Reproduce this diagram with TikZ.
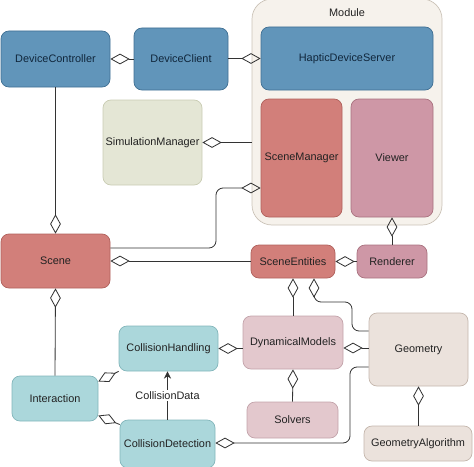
\documentclass[tikz,border=0pt]{standalone}
\usepackage{fontspec}
\setmainfont{Liberation Sans}
\usetikzlibrary{arrows.meta,calc}
\definecolor{bluefill}{HTML}{6195BA}
\definecolor{blueline}{HTML}{3F6F93}
\definecolor{bluetext}{HTML}{10263B}
\definecolor{redfill}{HTML}{D27F7A}
\definecolor{redline}{HTML}{B0605B}
\definecolor{pinkfill}{HTML}{CE97A6}
\definecolor{pinkline}{HTML}{A9727F}
\definecolor{rosefill}{HTML}{E3C8CD}
\definecolor{roseline}{HTML}{C3A3AA}
\definecolor{cyanfill}{HTML}{ABD7DB}
\definecolor{cyanline}{HTML}{83B6BB}
\definecolor{sandfill}{HTML}{EBE2DC}
\definecolor{sandline}{HTML}{C4B6AC}
\definecolor{olivefill}{HTML}{E4E6D5}
\definecolor{oliveline}{HTML}{C9CCB3}
\definecolor{modfill}{HTML}{F6F2EC}
\definecolor{modline}{HTML}{CBC3B8}
\definecolor{linec}{HTML}{333333}
\definecolor{textc}{HTML}{222222}
\tikzset{
  box/.style={rectangle,rounded corners=2.4mm,draw,line width=0.6pt,align=center,inner sep=0pt,
    font=\fontsize{9.3}{11}\selectfont,text=textc},
  sz/.style 2 args={minimum width=#1*0.3mm,minimum height=#2*0.3mm},
  bluebox/.style={box,fill=bluefill,draw=blueline,text=bluetext},
  redbox/.style={box,fill=redfill,draw=redline},
  pinkbox/.style={box,fill=pinkfill,draw=pinkline},
  rosebox/.style={box,fill=rosefill,draw=roseline},
  cyanbox/.style={box,fill=cyanfill,draw=cyanline},
  sandbox/.style={box,fill=sandfill,draw=sandline},
  olivebox/.style={box,fill=olivefill,draw=oliveline},
  modbox/.style={box,rounded corners=6mm,fill=modfill,draw=modline},
  agg/.style={draw=linec,line width=0.7pt,{Diamond[open,length=5.8mm,width=3.2mm,line width=0.7pt]}-},
  dataflow/.style={draw=linec,line width=0.7pt,-{Stealth[length=2.2mm,width=2.2mm]}}
}
\begin{document}
\begin{tikzpicture}[x=0.3mm,y=-0.3mm]
\useasboundingbox (0,0) rectangle (474,466);
%module container
\node[modbox,sz={190}{226}] (mod) at (347,112) {};
\node[font=\fontsize{9.3}{11}\selectfont,text=textc] (modlabel) at (347,13) {Module};
\node[bluebox,sz={172}{63}] (hds) at (347,58.5) {HapticDeviceServer};
\node[redbox,sz={81}{118}] (sm) at (301.5,158) {SceneManager};
\node[pinkbox,sz={82}{118}] (vw) at (392,158) {Viewer};
%device side
\node[bluebox,sz={109}{56}] (dc) at (55.5,59) {DeviceController};
\node[bluebox,sz={94}{62}] (dcl) at (181,59) {DeviceClient};
\node[olivebox,sz={99}{85}] (sim) at (152.5,142.5) {SimulationManager};
%scene
\node[redbox,sz={109}{54}] (sc) at (55.5,261) {Scene};
\node[redbox,sz={84}{33}] (se) at (293,261.5) {SceneEntities};
\node[pinkbox,sz={70}{33}] (rd) at (392,261.5) {Renderer};
%collision and dynamics
\node[cyanbox,sz={99}{45}] (ch) at (168.5,348.5) {CollisionHandling};
\node[cyanbox,sz={86}{45}] (ia) at (55,398.5) {Interaction};
\node[cyanbox,sz={95}{48}] (cd) at (167.5,444) {CollisionDetection};
\node[rosebox,sz={100}{53}] (dm) at (293,342.5) {DynamicalModels};
\node[rosebox,sz={91}{36}] (sv) at (292.5,420) {Solvers};
\node[sandbox,sz={99}{73}] (geo) at (418.5,349.5) {Geometry};
\node[sandbox,sz={108}{35}] (ga) at (418,443.5) {GeometryAlgorithm};
%aggregations
\draw[agg] (dc.east) -- (dcl.west);
\draw[agg] (hds.west) -- (hds.west -| dcl.east);
\draw[agg] (sc.north) -- (dc.south);
\draw[agg] (sim.east) -- (sim.east -| mod.west);
\draw[agg,rounded corners=6pt] ($(sm.west)+(0,30)$) -| (216,220) |- ($(sc.east)+(0,-13)$);
\draw[agg] (sc.east) -- (sc.east -| se.west);
\draw[agg] (se.east) -- (rd.west);
\draw[agg] (vw.south) -- (rd.north);
\draw[agg] (sc.south) -- (ia.north);
\draw[agg] ($(ia.east)+(0,-17)$) -- (ch.south west);
\draw[agg] ($(ia.east)+(0,17)$) -- ($(cd.west)+(0,-19.5)$);
\draw[agg] (ch.east) -- (ch.east -| dm.west);
\draw[agg] (se.south) -- (dm.north);
\draw[agg,rounded corners=6pt] ($(se.south)+(21,0)$) |- (352,302) |- ($(geo.west)+(0,-18.5)$);
\coordinate (dmg) at ($(dm.east)+(0,5.5)$);
\draw[agg] (dmg) -- (dmg -| geo.west);
\draw[agg] (dm.south) -- (sv.north);
\draw[agg,rounded corners=6pt] ($(cd.east)+(0,-1)$) -| (350,400) |- ($(geo.west)+(0,17.5)$);
\draw[agg] (geo.south) -- (geo.south |- ga.north);
%data flow
\draw[dataflow] (cd.north) -- (cd.north |- ch.south)
  node[midway,fill=white,inner sep=1.5pt,font=\fontsize{9.3}{11}\selectfont,text=textc] (cdata) {CollisionData};
\end{tikzpicture}
\end{document}
